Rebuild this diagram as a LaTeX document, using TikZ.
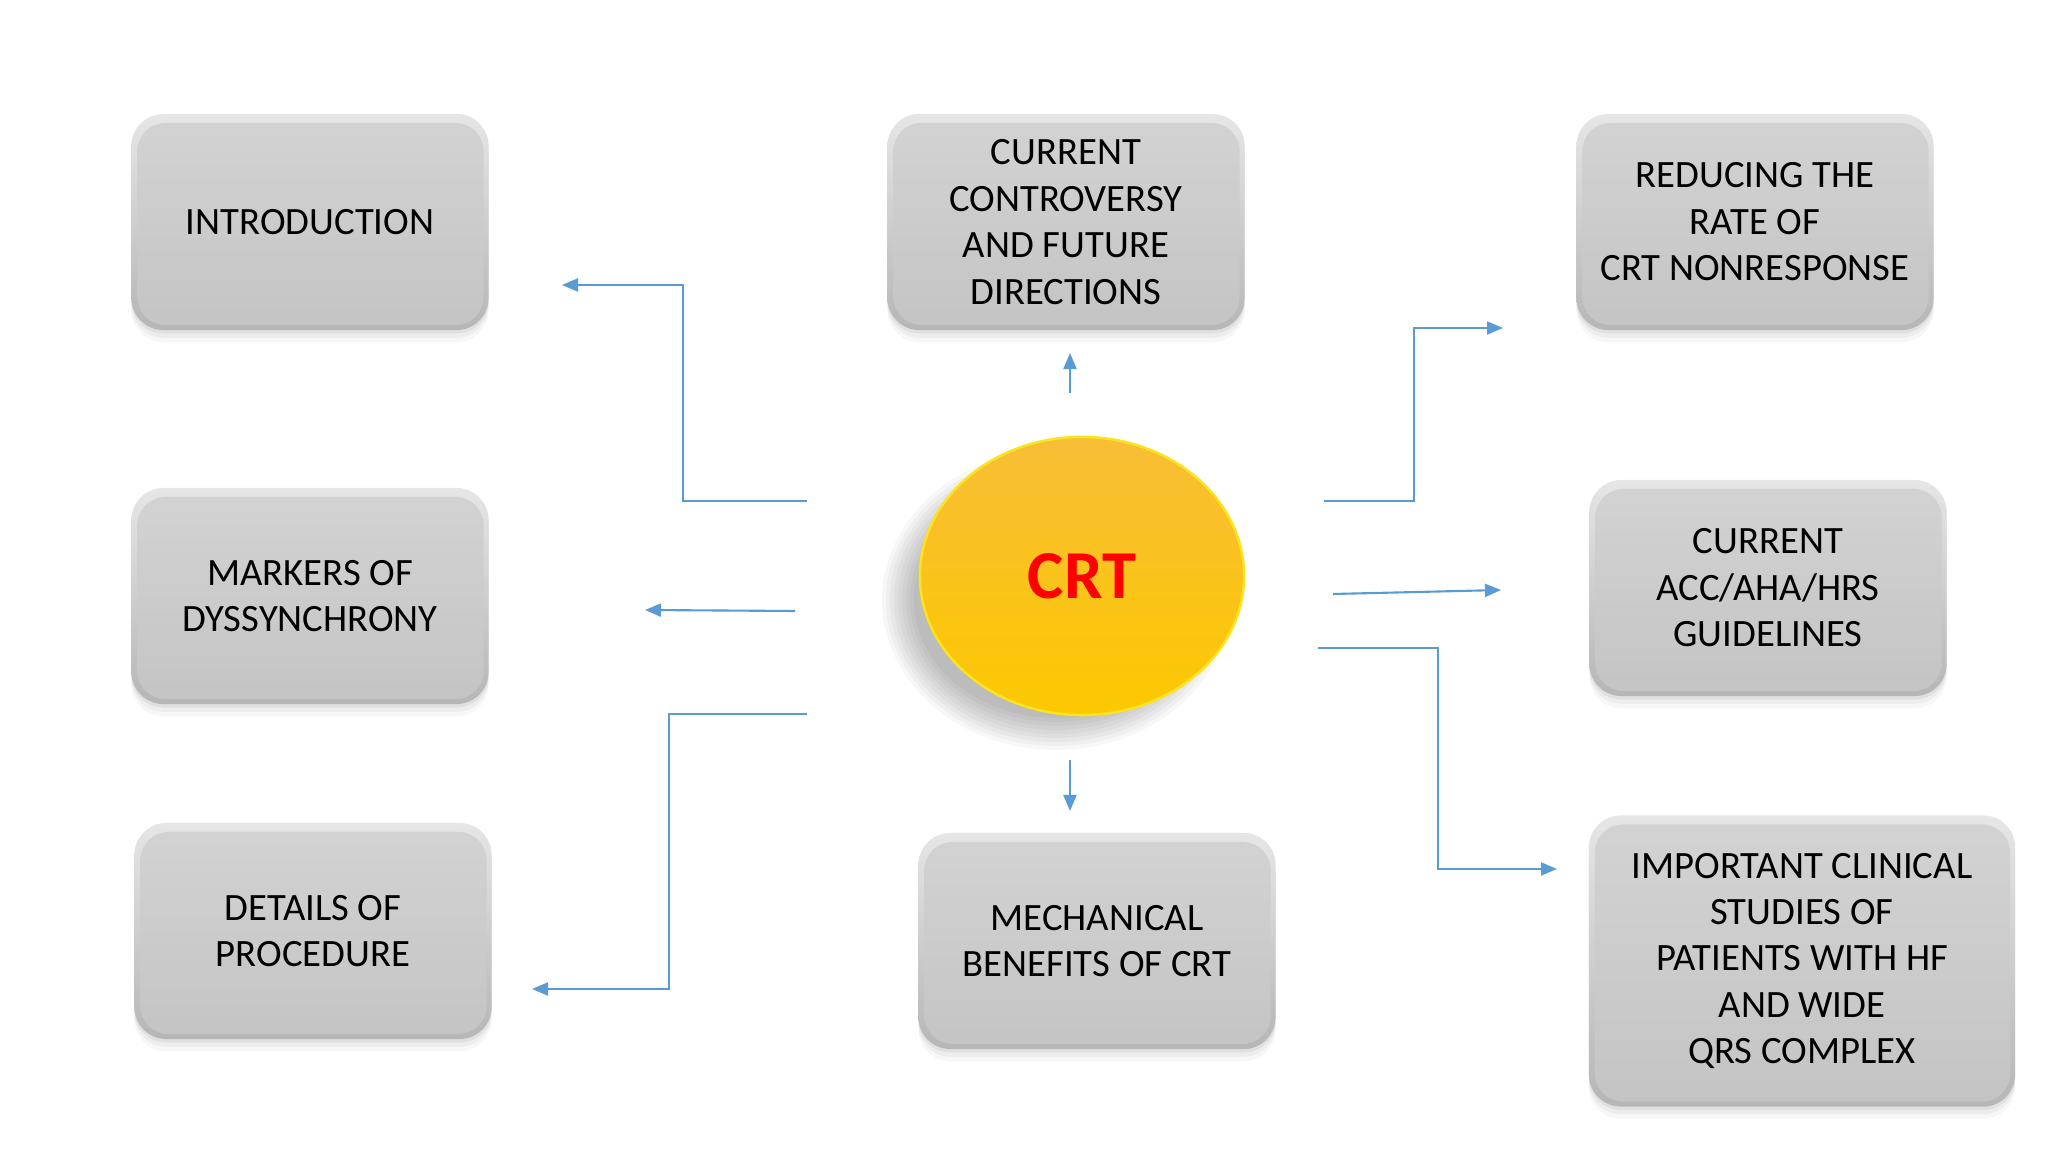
\documentclass[tikz,border=0pt]{standalone}
\usepackage{fontspec}
\setmainfont{Carlito}
\usetikzlibrary{arrows.meta,shapes.geometric}
\definecolor{arrblue}{HTML}{5B9BD5}
\definecolor{crtred}{HTML}{FF0000}
\definecolor{rimtop}{HTML}{E6E6E6}
\definecolor{rimbot}{HTML}{B6B6B6}
\definecolor{bodytop}{HTML}{D3D3D3}
\definecolor{bodybot}{HTML}{C4C4C4}
\tikzset{
  arr/.style={draw=arrblue, line width=0.6pt, -{Triangle[length=0.16cm,width=0.13cm]}},
  greybox/.style={rounded corners=0.32cm, minimum width=3.57cm, minimum height=2.16cm,
    align=center, font=\fontsize{11}{13.2}\selectfont, text=black,
    top color=rimtop, bottom color=rimbot,
    preaction={fill=black, opacity=0.03, transform canvas={yshift=-3.5pt}},
    preaction={fill=black, opacity=0.04, transform canvas={yshift=-2.2pt}},
    preaction={fill=black, opacity=0.05, transform canvas={yshift=-1pt}},
    path picture={\shade[rounded corners=0.28cm, top color=bodytop, bottom color=bodybot]
      ([shift={(0.06cm,-0.09cm)}]path picture bounding box.north west) rectangle
      ([shift={(-0.05cm,0.05cm)}]path picture bounding box.south east);}},
}
\begin{document}
\begin{tikzpicture}[x=0.01cm,y=-0.01cm]
\useasboundingbox (0,0) rectangle (2048,1152);
\fill[white] (0,0) rectangle (2048,1152);

% boxes
\node[greybox] (intro) at (310,222) {INTRODUCTION};
\node[greybox] (contro) at (1066,222) {CURRENT\\CONTROVERSY\\AND FUTURE\\DIRECTIONS};
\node[greybox] (reduce) at (1755,222) {REDUCING THE\\RATE OF\\CRT NONRESPONSE};
\node[greybox] (markers) at (310,596) {MARKERS OF\\DYSSYNCHRONY};
\node[greybox] (acc) at (1768,588) {CURRENT\\ACC/AHA/HRS\\GUIDELINES};
\node[greybox] (details) at (313,931) {DETAILS OF\\PROCEDURE};
\node[greybox] (mech) at (1097,941) {MECHANICAL\\BENEFITS OF CRT};
\node[greybox, minimum width=4.26cm, minimum height=2.91cm] (studies) at (1802,961)
  {IMPORTANT CLINICAL\\STUDIES OF\\PATIENTS WITH HF\\AND WIDE\\QRS COMPLEX};

% CRT shadow (soft, down-left)
\foreach \r in {-14,-10,...,18}{
  \fill[black, opacity=0.032] (1056,600) ellipse ({160-\r} and {136-\r});
}
% CRT disc
\node[ellipse, minimum width=3.24cm, minimum height=2.78cm, inner sep=0pt,
  top color={rgb,255:red,248;green,190;blue,55}, bottom color={rgb,255:red,252;green,200;blue,0},
  draw={rgb,255:red,250;green,228;blue,30}, line width=0.7pt,
  font=\fontsize{19.5}{22}\selectfont\bfseries, text=crtred] (crt) at (1082,576) {CRT};

% connector coordinates
\coordinate (s1) at (807,501); \coordinate (e1) at (562,285);
\coordinate (s2) at (795,611); \coordinate (e2) at (645,610);
\coordinate (s3) at (807,714); \coordinate (e3) at (532,989);
\coordinate (s4) at (1070,393); \coordinate (e4) at (1070,353);
\coordinate (s5) at (1070,760); \coordinate (e5) at (1070,811);
\coordinate (s6) at (1324,501); \coordinate (e6) at (1503,328);
\coordinate (s7) at (1333,594); \coordinate (e7) at (1501,590);
\coordinate (s8) at (1318,648); \coordinate (e8) at (1557,869);

\draw[arr] (s1) -- (683,501) -- (683,285) -- (e1);
\draw[arr] (s2) -- (e2);
\draw[arr] (s3) -- (669,714) -- (669,989) -- (e3);
\draw[arr] (s4) -- (e4);
\draw[arr] (s5) -- (e5);
\draw[arr] (s6) -- (1414,501) -- (1414,328) -- (e6);
\draw[arr] (s7) -- (e7);
\draw[arr] (s8) -- (1438,648) -- (1438,869) -- (e8);
\end{tikzpicture}
\end{document}
